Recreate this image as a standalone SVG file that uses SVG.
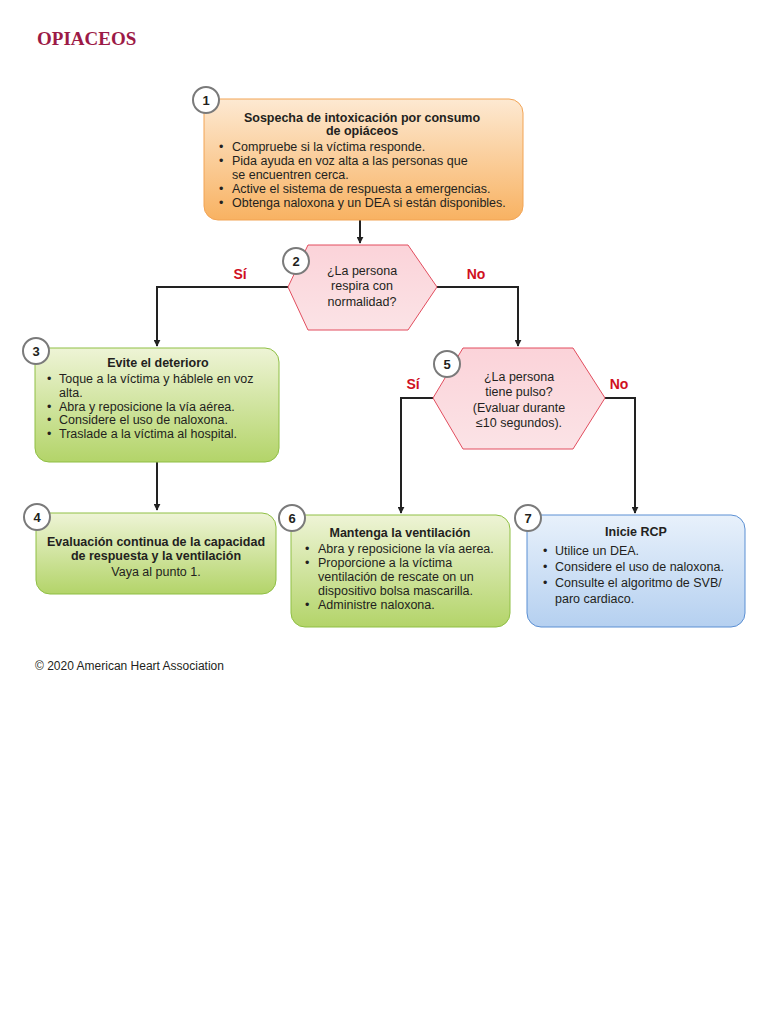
<svg xmlns="http://www.w3.org/2000/svg" width="768" height="1024" viewBox="0 0 768 1024">
<defs>
<linearGradient id="gOr" x1="0" y1="0" x2="0" y2="1"><stop offset="0" stop-color="#fde9d2"/><stop offset="1" stop-color="#f8b262"/></linearGradient>
<linearGradient id="gGr" x1="0" y1="0" x2="0" y2="1"><stop offset="0" stop-color="#eef4d6"/><stop offset="1" stop-color="#b3d469"/></linearGradient>
<linearGradient id="gBl" x1="0" y1="0" x2="0" y2="1"><stop offset="0" stop-color="#e8f1fb"/><stop offset="1" stop-color="#b5d0f0"/></linearGradient>
<linearGradient id="gPk" x1="0" y1="0" x2="0" y2="1"><stop offset="0" stop-color="#fbd3d9"/><stop offset="1" stop-color="#fbe3e6"/></linearGradient>
<marker id="arr" viewBox="0 0 10 10" refX="9" refY="5" markerWidth="7" markerHeight="7" orient="auto" markerUnits="userSpaceOnUse"><path d="M0,0 L10,5 L0,10 z" fill="#222"/></marker>
<style>
text{font-family:"Liberation Sans",Arial,sans-serif;fill:#231f20;font-size:12.5px}
.t{font-weight:bold;text-anchor:middle}
.c{text-anchor:middle}
.lbl{fill:#d0101f;font-weight:bold;font-size:14px}
.num{font-weight:bold;font-size:13px;text-anchor:middle}
.circ{fill:#fff;stroke:#7a7a7a;stroke-width:2}
.or{fill:url(#gOr);stroke:#f2a455;stroke-width:1}
.gr{fill:url(#gGr);stroke:#8fbf44;stroke-width:1}
.bl{fill:url(#gBl);stroke:#5a8fd3;stroke-width:1}
.hx{fill:url(#gPk);stroke:#e24d5e;stroke-width:1}
.ln{fill:none;stroke:#222;stroke-width:2}
</style>
</defs>
<rect width="768" height="1024" fill="#fff"/>
<text x="37" y="45" style="font-family:'Liberation Serif',serif;font-weight:bold;font-size:19px;fill:#9c1a46">OPIACEOS</text>

<g id="connectors">
<path class="ln" d="M360,220 V243" marker-end="url(#arr)"/>
<path class="ln" d="M288,287 H157 V346" marker-end="url(#arr)"/>
<path class="ln" d="M437,287 H518 V346" marker-end="url(#arr)"/>
<path class="ln" d="M157,462 V510" marker-end="url(#arr)"/>
<path class="ln" d="M433,398 H401 V513" marker-end="url(#arr)"/>
<path class="ln" d="M605,398 H635 V513" marker-end="url(#arr)"/>
<text class="lbl" x="240" y="279" text-anchor="middle">Sí</text>
<text class="lbl" x="476" y="279" text-anchor="middle">No</text>
<text class="lbl" x="413" y="389" text-anchor="middle">Sí</text>
<text class="lbl" x="619" y="389" text-anchor="middle">No</text>
</g>

<g id="n1">
<rect class="or" x="204" y="99" width="319" height="121" rx="14"/>
<circle class="circ" cx="206" cy="100" r="13"/><text class="num" x="206" y="105">1</text>
<text class="t" x="362" y="122">Sospecha de intoxicación por consumo</text>
<text class="t" x="362" y="135">de opiáceos</text>
<text x="219" y="151">•</text><text x="232" y="151">Compruebe si la víctima responde.</text>
<text x="219" y="165">•</text><text x="232" y="165">Pida ayuda en voz alta a las personas que</text>
<text x="232" y="179">se encuentren cerca.</text>
<text x="219" y="193">•</text><text x="232" y="193">Active el sistema de respuesta a emergencias.</text>
<text x="219" y="207">•</text><text x="232" y="207">Obtenga naloxona y un DEA si están disponibles.</text>
</g>

<g id="n2">
<polygon class="hx" points="308,245 408,245 437,287 408,330 308,330 288,287"/>
<circle class="circ" cx="296" cy="261" r="13"/><text class="num" x="296" y="266">2</text>
<text class="c" x="362" y="275">¿La persona</text>
<text class="c" x="362" y="290">respira con</text>
<text class="c" x="362" y="306">normalidad?</text>
</g>

<g id="n3">
<rect class="gr" x="35" y="348" width="244" height="114" rx="14"/>
<circle class="circ" cx="36" cy="351" r="13"/><text class="num" x="36" y="356">3</text>
<text class="t" x="158" y="367">Evite el deterioro</text>
<text x="47" y="383">•</text><text x="59" y="383">Toque a la víctima y háblele en voz</text>
<text x="59" y="397">alta.</text>
<text x="47" y="411">•</text><text x="59" y="411">Abra y reposicione la vía aérea.</text>
<text x="47" y="424">•</text><text x="59" y="424">Considere el uso de naloxona.</text>
<text x="47" y="438">•</text><text x="59" y="438">Traslade a la víctima al hospital.</text>
</g>

<g id="n4">
<rect class="gr" x="36" y="513" width="240" height="81" rx="14"/>
<circle class="circ" cx="37" cy="517" r="13"/><text class="num" x="37" y="522">4</text>
<text class="t" x="156" y="546">Evaluación continua de la capacidad</text>
<text class="t" x="156" y="560">de respuesta y la ventilación</text>
<text class="c" x="156" y="576">Vaya al punto 1.</text>
</g>

<g id="n5">
<polygon class="hx" points="463,348 573,348 605,398 573,449 463,449 433,398"/>
<circle class="circ" cx="447" cy="364" r="13"/><text class="num" x="447" y="369">5</text>
<text class="c" x="519" y="381">¿La persona</text>
<text class="c" x="519" y="396">tiene pulso?</text>
<text class="c" x="519" y="412">(Evaluar durante</text>
<text class="c" x="519" y="427">≤10 segundos).</text>
</g>

<g id="n6">
<rect class="gr" x="291" y="515" width="219" height="112" rx="14"/>
<circle class="circ" cx="292" cy="518" r="13"/><text class="num" x="292" y="523">6</text>
<text class="t" x="400" y="537">Mantenga la ventilación</text>
<text x="305" y="553">•</text><text x="318" y="553">Abra y reposicione la vía aerea.</text>
<text x="305" y="567">•</text><text x="318" y="567">Proporcione a la víctima</text>
<text x="318" y="581">ventilación de rescate on un</text>
<text x="318" y="595">dispositivo bolsa mascarilla.</text>
<text x="305" y="609">•</text><text x="318" y="609">Administre naloxona.</text>
</g>

<g id="n7">
<rect class="bl" x="527" y="515" width="218" height="112" rx="14"/>
<circle class="circ" cx="528" cy="518" r="13"/><text class="num" x="528" y="523">7</text>
<text class="t" x="636" y="536">Inicie RCP</text>
<text x="543" y="555">•</text><text x="555" y="555">Utilice un DEA.</text>
<text x="543" y="571">•</text><text x="555" y="571">Considere el uso de naloxona.</text>
<text x="543" y="587">•</text><text x="555" y="587">Consulte el algoritmo de SVB/</text>
<text x="555" y="603">paro cardiaco.</text>
</g>

<text x="35" y="670" style="font-size:12px">© 2020 American Heart Association</text>
</svg>
